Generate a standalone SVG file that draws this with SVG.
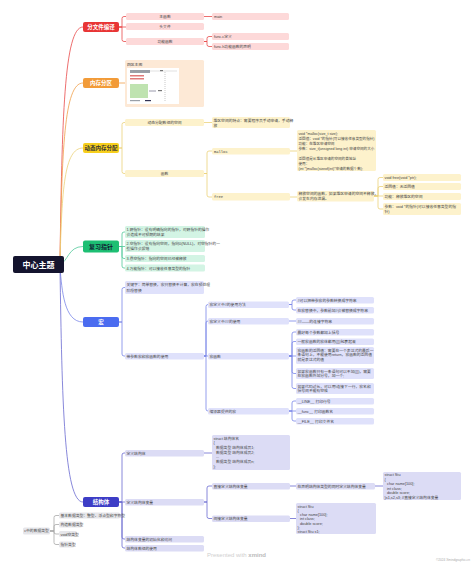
<svg xmlns="http://www.w3.org/2000/svg" width="474" height="565" viewBox="0 0 474 565">
<style>
text{font-family:"Liberation Sans","Noto Sans CJK SC",sans-serif;}
.t{font-size:3.8px;fill:#444;}
.tc{font-size:3.8px;fill:#444;text-anchor:middle;}
.m{font-size:5.5px;font-weight:bold;text-anchor:middle;fill:#fff;}
.ln{fill:none;stroke-width:0.8;}
.r{stroke:#e84a4a;} .o{stroke:#f0a04a;} .y{stroke:#ebd27a;} .g{stroke:#52c99a;} .b{stroke:#7a86e8;} .i{stroke:#6a6ad0;} .k{stroke:#aaa;}
.fr{fill:#fdd9d9;} .fo{fill:#fde9d6;} .fy{fill:#fdf2cc;} .fg{fill:#d3f4e4;} .fb{fill:#dfe1fb;} .fi{fill:#dcdcf5;} .fk{fill:#e6e6ea;}
</style>
<rect width="474" height="565" fill="#fff"/>
<g id="connectors">
<path class="ln r" d="M60 262 C62 120 64 27 83 27"/>
<path class="ln o" d="M60 262 C62 150 64 83 83 83"/>
<path class="ln y" d="M60 262 C62 190 64 148 83 148"/>
<path class="ln g" d="M60 264 C68 262 68 246.5 83 246.5"/>
<path class="ln b" d="M60 268 C62 290 64 322 83 322"/>
<path class="ln i" d="M60 268 C62 400 64 502 83 502"/>
<path class="ln r" d="M119 27 H122 V18.5 Q122 16.5 124 16.5 H126 M119 27 H126 M119 27 H122 V39.5 Q122 41.5 124 41.5 H126 M204 16.5 H212 M204 41.5 H207 V38.5 Q207 36.5 209 36.5 H212 M204 41.5 H207 V44.5 Q207 46.5 209 46.5 H212"/>
<path class="ln o" d="M119 83 H125"/>
<path class="ln y" d="M119 148 H122 V124.5 Q122 122.5 124 122.5 H125 M119 148 H122 V171.5 Q122 173.5 124 173.5 H125 M204 122.5 H212 M204 173.5 H207 V153 Q207 151 209 151 H212 M204 173.5 H207 V195 Q207 197 209 197 H212 M290 151 H297 M290 197 H297 M374 196 H378 V179.5 Q378 177.5 380 177.5 H383 M374 196 H378 V188.5 Q378 186.5 380 186.5 H383 M374 196 H383 M374 196 H378 V207 Q378 209 380 209 H383"/>
<path class="ln g" d="M119 246.5 H122 V234 Q122 232 124 232 H125 M119 246.5 H125 M119 246.5 H122 V256.5 Q122 258.5 124 258.5 H125 M119 246.5 H122 V266 Q122 268 124 268 H125"/>
<path class="ln b" d="M119 322 H122 V289.5 Q122 287.5 124 287.5 H125 M119 322 H122 V354 Q122 356 124 356 H125 M204 356 H206 V306.5 Q206 304.5 208 304.5 M204 356 H206 V323 Q206 321 208 321 M204 356 H208 M204 356 H206 V409 Q206 411 208 411 M289 304.5 H292 V302 Q292 300 294 300 H296 M289 304.5 H292 V308 Q292 310 294 310 H296 M289 321 H296 M289 356 H292 V334 Q292 332 294 332 H296 M289 356 H292 V343.5 Q292 341.5 294 341.5 H296 M289 356 H296 M289 356 H292 V371.5 Q292 373.5 294 373.5 H296 M289 356 H292 V386.5 Q292 388.5 294 388.5 H296 M289 411 H292 V403 Q292 401 294 401 H296 M289 411 H296 M289 411 H292 V419 Q292 421 294 421 H296"/>
<path class="ln i" d="M119 502 H122 V455 Q122 453 124 453 H125 M119 502 H125 M119 502 H122 V537 Q122 539 124 539 H125 M119 502 H122 V546 Q122 548 124 548 H125 M204 453 H212 M204 502 H207 V488 Q207 486 209 486 H212 M204 502 H207 V516.5 Q207 518.5 209 518.5 H212 M290 486 H296 M375 486 H383 M290 518.5 H296"/>
<path class="ln k" d="M50 531 H54 V517.5 Q54 515.5 56 515.5 H59 M50 531 H54 V526.5 Q54 524.5 56 524.5 H59 M50 531 H54 V532 Q54 534 56 534 H59 M50 531 H54 V542.5 Q54 544.5 56 544.5 H59"/>
</g>
<g id="center"><rect x="13" y="256" width="51" height="17" rx="2" fill="#14142e"/><text x="38.5" y="267.5" class="m" style="font-size:8px">中心主题</text></g>

<g id="n-fenwenjian">
<rect x="83" y="22" width="36" height="10" rx="2" fill="#e83535"/><text x="101" y="29" class="m">分文件编译</text>
<rect x="126" y="13" width="78" height="7" rx="1.5" class="fr"/><text x="165" y="18" class="tc">主函数</text>
<rect x="212" y="13" width="77" height="7" rx="1.5" class="fr"/><text x="214" y="18" class="t">main</text>
<rect x="126" y="23" width="78" height="7" rx="1.5" class="fr"/><text x="165" y="28" class="tc">头文件</text>
<rect x="126" y="38" width="78" height="7" rx="1.5" class="fr"/><text x="165" y="43" class="tc">功能函数</text>
<rect x="212" y="33" width="77" height="7" rx="1.5" class="fr"/><text x="214" y="38" class="t">func.c定义</text>
<rect x="212" y="43" width="77" height="7" rx="1.5" class="fr"/><text x="214" y="48" class="t">func.h功能函数的声明</text>
</g>

<g id="n-neicun">
<rect x="83" y="78" width="36" height="10" rx="2" fill="#f29b38"/><text x="101" y="85" class="m">内存分区</text>
<rect x="125" y="60" width="79" height="47" rx="1.5" class="fo"/>
<text x="127" y="65.5" class="t">四区主图</text>
<rect x="127" y="68" width="52" height="36" fill="#fff"/>
<rect x="130" y="70" width="20" height="3" fill="#9aa0a8"/>
<rect x="130" y="75" width="14" height="1.5" fill="#e07a7a"/>
<rect x="130" y="78" width="14" height="1.5" fill="#e07a7a"/>
<rect x="130" y="84" width="18" height="14" fill="#bfe3b0"/>
<rect x="130" y="100" width="10" height="1.2" fill="#9aa0a8"/>
<rect x="145" y="100" width="6" height="1.2" fill="#335"/>
<line x1="133" y1="71" x2="177" y2="71" stroke="#999" stroke-width="0.3"/>
<line x1="165" y1="72" x2="165" y2="102" stroke="#777" stroke-width="0.4" stroke-dasharray="1 1"/>
<line x1="149" y1="91" x2="156" y2="91" stroke="#335" stroke-width="0.5"/>
<rect x="160" y="70" width="3" height="1.2" fill="#777"/>
<rect x="158" y="90" width="4" height="1.2" fill="#777"/>
</g>

<g id="n-dongtai">
<rect x="83" y="143" width="36" height="10" rx="2" fill="#f7cf1d"/><text x="101" y="150" class="m" style="fill:#333">动态内存分配</text>
<rect x="125" y="119" width="79" height="7" rx="1.5" class="fy"/><text x="164.5" y="124" class="tc">动态分配数组的空间</text>
<rect x="212" y="117" width="78" height="11" rx="1.5" class="fy"/><text x="213.5" y="121.5" class="t">堆区空间的特点：需要程序员手动申请，手动释</text><text x="213.5" y="126.5" class="t">放</text>
<rect x="125" y="170" width="79" height="7" rx="1.5" class="fy"/><text x="164.5" y="175" class="tc">函数</text>
<rect x="212" y="148" width="78" height="6.5" rx="1.5" class="fy"/><text x="214" y="152.8" class="t" style="font-family:'Liberation Mono',monospace">malloc</text>
<rect x="297" y="130" width="79" height="41" rx="1.5" class="fy"/>
<text class="t" style="font-size:3.6px"><tspan x="298.5" y="134.5">void *malloc(size_t size);</tspan><tspan x="298.5" y="139.5">返回值：void *的指针(可以接收任意类型的指针)</tspan><tspan x="298.5" y="144.5">功能：在堆区申请空间</tspan><tspan x="298.5" y="149.5">参数：size_t(unsigned long int) 申请空间的大小</tspan><tspan x="298.5" y="159.5">返回值是从堆区申请的空间的首地址</tspan><tspan x="298.5" y="164.5">使用：</tspan><tspan x="298.5" y="169.5">(int *)malloc(sizeof(int)*申请的数据个数);</tspan></text>
<rect x="212" y="193" width="78" height="7.5" rx="1.5" class="fy"/><text x="214" y="198.3" class="t" style="font-family:'Liberation Mono',monospace">free</text>
<rect x="297" y="191" width="77" height="10.5" rx="1.5" class="fy"/><text x="298.5" y="195.3" class="t">释放空间的函数，如果堆区申请的空间不释放，</text><text x="298.5" y="200" class="t">会发生内存泄漏。</text>
<rect x="383" y="174" width="78" height="7" rx="1.5" class="fy"/><text x="384.5" y="179" class="t">void free(void *ptr);</text>
<rect x="383" y="183" width="78" height="7" rx="1.5" class="fy"/><text x="384.5" y="188" class="t">返回值：无返回值</text>
<rect x="383" y="193" width="78" height="7" rx="1.5" class="fy"/><text x="384.5" y="198" class="t">功能：释放堆区的空间</text>
<rect x="383" y="203" width="78" height="12" rx="1.5" class="fy"/><text x="384.5" y="207.5" class="t">参数：void *的指针(可以接收任意类型的指</text><text x="384.5" y="212.5" class="t">针)</text>
</g>

<g id="n-zhizhen">
<rect x="83" y="240.5" width="36" height="12" rx="2" fill="#1dbf73"/><text x="101" y="248.5" class="m" style="fill:#123;font-size:6px">复习指针</text>
<rect x="125" y="226" width="80" height="12" rx="1.5" class="fg"/><text x="126.5" y="230.5" class="t">1.野指针：没有明确指向的指针，对野指针的操作</text><text x="126.5" y="235.5" class="t">会造成不可预期的结果</text>
<rect x="125" y="240" width="80" height="12" rx="1.5" class="fg"/><text x="126.5" y="244.5" class="t">2.空指针：没有指向空间，指向0(NULL)，对空指针的一</text><text x="126.5" y="249.5" class="t">些操作会报错</text>
<rect x="125" y="255" width="80" height="7" rx="1.5" class="fg"/><text x="126.5" y="260" class="t">3.悬空指针：指向的空间已经被释放</text>
<rect x="125" y="264.5" width="80" height="7" rx="1.5" class="fg"/><text x="126.5" y="269.5" class="t">4.万能指针：可以接收任意类型的指针</text>
</g>

<g id="n-hong">
<rect x="83" y="317" width="36" height="10" rx="2" fill="#4b6cf0"/><text x="101" y="324" class="m">宏</text>
<rect x="125" y="281" width="79" height="13" rx="1.5" class="fb"/><text x="126.5" y="286" class="t">关键字：简单替换，宏只替换不计算，宏在预处理</text><text x="126.5" y="291.5" class="t">阶段替换</text>
<rect x="125" y="353" width="79" height="6.5" rx="1.5" class="fb"/><text x="126.5" y="357.8" class="t">带参数宏和宏函数的使用</text>
<rect x="208" y="301.5" width="81" height="6.5" rx="1.5" class="fb"/><text x="209.5" y="306.3" class="t">宏定义中#的使用方法</text>
<rect x="208" y="318" width="81" height="6.5" rx="1.5" class="fb"/><text x="209.5" y="322.8" class="t">宏定义中##的使用</text>
<rect x="208" y="353" width="81" height="6.5" rx="1.5" class="fb"/><text x="209.5" y="357.8" class="t">宏函数</text>
<rect x="208" y="408" width="81" height="6.5" rx="1.5" class="fb"/><text x="209.5" y="412.8" class="t">编译器提供的宏</text>
<rect x="296" y="297" width="78" height="6.5" rx="1.5" class="fb"/><text x="297.5" y="301.8" class="t">#可以把带参宏的参数转换成字符串</text>
<rect x="296" y="307" width="78" height="6.5" rx="1.5" class="fb"/><text x="297.5" y="311.8" class="t">在宏替换中，参数前加#会被替换成字符串</text>
<rect x="296" y="318" width="78" height="6.5" rx="1.5" class="fb"/><text x="297.5" y="322.8" class="t">##——的连接字符串</text>
<rect x="296" y="329" width="78" height="6.5" rx="1.5" class="fb"/><text x="297.5" y="333.8" class="t">最好每个参数都加上括号</text>
<rect x="296" y="338.5" width="78" height="6.5" rx="1.5" class="fb"/><text x="297.5" y="343.3" class="t">一般宏函数的宏体都用({})包裹起来</text>
<rect x="296" y="347" width="78" height="17" rx="1.5" class="fb"/><text x="297.5" y="351.5" class="t">宏函数的返回值：需要在一个表达式的最后一</text><text x="297.5" y="356.3" class="t">条语句上，不能使用return，宏函数的返回值</text><text x="297.5" y="361.1" class="t">就是表达式的值</text>
<rect x="296" y="368" width="78" height="11" rx="1.5" class="fb"/><text x="297.5" y="372.5" class="t">如果宏函数只有一条语句可以不加({})，需要</text><text x="297.5" y="377.3" class="t">在宏函数外加分号，加一个;</text>
<rect x="296" y="383" width="78" height="11" rx="1.5" class="fb"/><text x="297.5" y="387.5" class="t">如果代码过长，可以用\连接下一行，宏名和</text><text x="297.5" y="392.3" class="t">括号间不能有空格</text>
<rect x="296" y="398" width="78" height="6.5" rx="1.5" class="fb"/><text x="297.5" y="402.8" class="t">__LINE__ 打印行号</text>
<rect x="296" y="408" width="78" height="6.5" rx="1.5" class="fb"/><text x="297.5" y="412.8" class="t">__func__ 打印函数名</text>
<rect x="296" y="418" width="78" height="6.5" rx="1.5" class="fb"/><text x="297.5" y="422.8" class="t">__FILE__ 打印文件名</text>
</g>

<g id="n-jiegouti">
<rect x="83" y="497" width="36" height="10" rx="2" fill="#3d3dc6"/><text x="101" y="504" class="m">结构体</text>
<rect x="125" y="450" width="79" height="6.5" rx="1.5" class="fi"/><text x="126.5" y="454.8" class="t">定义结构体</text>
<rect x="212" y="435" width="78" height="35" rx="1.5" class="fi"/>
<text class="t"><tspan x="213.5" y="439.5">struct 结构体名</tspan><tspan x="213.5" y="444.2">{</tspan><tspan x="216" y="448.9">数据类型 结构体成员1;</tspan><tspan x="216" y="453.6">数据类型 结构体成员2;</tspan><tspan x="216" y="458.3">...</tspan><tspan x="216" y="463">数据类型 结构体成员n;</tspan><tspan x="213.5" y="467.7">};</tspan></text>
<rect x="125" y="499" width="79" height="6.5" rx="1.5" class="fi"/><text x="126.5" y="503.8" class="t">定义结构体变量</text>
<rect x="212" y="483" width="78" height="6.5" rx="1.5" class="fi"/><text x="213.5" y="487.8" class="t">直接定义结构体变量</text>
<rect x="212" y="515.5" width="78" height="6.5" rx="1.5" class="fi"/><text x="213.5" y="520.3" class="t">间接定义结构体变量</text>
<rect x="296" y="483" width="79" height="6.5" rx="1.5" class="fi"/><text x="297.5" y="487.8" class="t">在声明结构体类型的同时定义结构体变量</text>
<rect x="383" y="472" width="78" height="28" rx="1.5" class="fi"/>
<text class="t"><tspan x="384.5" y="476">struct Stu</tspan><tspan x="384.5" y="480.5">{</tspan><tspan x="387" y="485">char name[100];</tspan><tspan x="387" y="489.5">int class;</tspan><tspan x="387" y="494">double score;</tspan><tspan x="384.5" y="498.5">}s1,s2,s3; //直接定义结构体变量</tspan></text>
<rect x="296" y="503" width="80" height="31" rx="1.5" class="fi"/>
<text class="t"><tspan x="297.5" y="507.5">struct Stu</tspan><tspan x="297.5" y="511.8">{</tspan><tspan x="300" y="516.1">char name[100];</tspan><tspan x="300" y="520.4">int class;</tspan><tspan x="300" y="524.7">double score;</tspan><tspan x="297.5" y="529">};</tspan><tspan x="297.5" y="533.3">struct Stu s1;</tspan></text>
<rect x="125" y="536" width="79" height="6.5" rx="1.5" class="fi"/><text x="126.5" y="540.8" class="t">结构体变量的初始化和访问</text>
<rect x="125" y="545" width="79" height="6.5" rx="1.5" class="fi"/><text x="126.5" y="549.8" class="t">结构体数组的使用</text>
</g>

<g id="n-shujuleixing">
<rect x="23" y="527.5" width="27" height="7" rx="1.5" class="fk"/><text x="36.5" y="532.3" class="tc">c中的数据类型</text>
<rect x="59" y="512.5" width="61" height="6" rx="1.5" class="fk"/><text x="60.5" y="517" class="t">基本数据类型：整型、浮点型和字符型</text>
<rect x="59" y="521.5" width="23" height="6" rx="1.5" class="fk"/><text x="60.5" y="526" class="t">构造数据类型</text>
<rect x="59" y="531" width="18" height="6" rx="1.5" class="fk"/><text x="60.5" y="535.5" class="t">void空类型</text>
<rect x="59" y="541.5" width="15" height="6" rx="1.5" class="fk"/><text x="60.5" y="546" class="t">指针类型</text>
</g>

<text x="207" y="557" style="font-size:6px;fill:#cfcfcf">Presented with <tspan style="font-weight:bold;fill:#bbb">xmind</tspan></text>
<text x="470" y="561" style="font-size:3.2px;fill:#aaa;text-anchor:end">©2024 Xmindgraphic.cn</text>
</svg>
